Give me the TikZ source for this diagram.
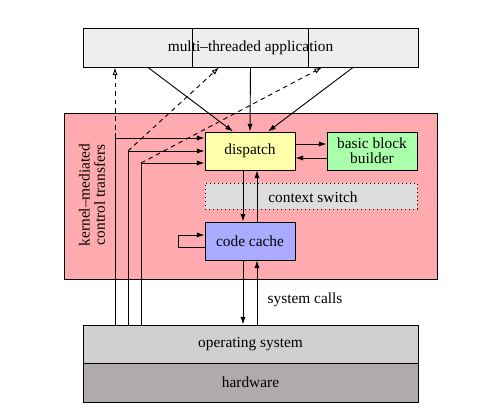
\documentclass[tikz,border=0pt]{standalone}
\usepackage{fontspec}
\setmainfont{Liberation Serif}
\usetikzlibrary{arrows.meta}
\definecolor{appgray}{RGB}{238,238,238}
\definecolor{kernpink}{RGB}{255,170,175}
\definecolor{dispyellow}{RGB}{255,255,170}
\definecolor{bbgreen}{RGB}{170,255,170}
\definecolor{cacheblue}{RGB}{170,170,255}
\definecolor{ctxgray}{RGB}{221,221,221}
\definecolor{osgray}{RGB}{208,208,208}
\definecolor{hwgray}{RGB}{174,170,174}
\begin{document}
\begin{tikzpicture}[x=0.65pt, y=-0.65pt, line width=0.6pt,
  box/.style = {draw, rectangle, inner sep=0pt, minimum width=58.5pt, minimum height=24.7pt, align=center},
  layer/.style = {draw, rectangle, inner sep=0pt, minimum width=217.75pt},
  go/.style = {-{Latex[length=5pt,width=3.4pt]}},
  ret/.style = {dashed, dash pattern=on 3pt off 2.5pt, -{Latex[open,length=5pt,width=3.4pt]}}]
\useasboundingbox (0,0) rectangle (492,417);
% layers
\node [layer, fill=appgray, minimum height=25.35pt] (app) at (250.5,47.5) {multi--threaded application};
\node [draw, fill=kernpink, inner sep=0pt, minimum width=242.45pt, minimum height=107.9pt] (kernel) at (250.5,196) {};
\node [layer, fill=osgray, minimum height=24.7pt] (os) at (250.5,344) {operating system};
\node [layer, fill=hwgray, minimum height=25.35pt] (hw) at (250.5,382.5) {hardware};
% inside the runtime
\node [box, fill=dispyellow] (dispatch) at (250,151) {dispatch};
\node [box, fill=bbgreen] (builder) at (372,151) {basic block\\[-2pt]builder};
\node [draw, dotted, fill=ctxgray, inner sep=0pt, minimum width=137.8pt, minimum height=16.9pt] (ctx) at (311,196) {};
\node (ctxlabel) at (313,197) {context switch};
\node [box, fill=cacheblue] (cache) at (250,241) {code cache};
\node [rotate=90, align=center] (ktext) at (92,195) {kernel--mediated\\[-2pt]control transfers};
\node [right] (syscalls) at (262,300) {system calls};
% helper positions
\coordinate (s1) at (192,0);
\coordinate (s2) at (308,0);
\coordinate (a1) at (148,0);
\coordinate (a2) at (233,0);
\coordinate (a3) at (353,0);
\coordinate (a4) at (268,0);
\coordinate (dn) at (243,0);
\coordinate (up) at (257,0);
\coordinate (k1) at (115,138);
\coordinate (k2) at (128,151);
\coordinate (k3) at (141,163);
\coordinate (r2) at (219,0);
\coordinate (r3) at (322,0);
\coordinate (bo) at (0,144);
\coordinate (bi) at (0,158);
\coordinate (lo) at (0,247);
\coordinate (li) at (0,235);
\draw (app.north -| s1) -- (app.south -| s1);
\draw (app.north -| s2) -- (app.south -| s2);
% application into dispatch
\draw [go] (app.south -| a1) -- (dispatch.north -| a2);
\draw [go] (app.south) -- (dispatch.north);
\draw [go] (app.south -| a3) -- (dispatch.north -| a4);
% kernel-mediated transfers
\draw [go] (os.north -| k1) -- (k1) -- (dispatch.west |- k1);
\draw [go] (os.north -| k2) -- (k2) -- (dispatch.west |- k2);
\draw [go] (os.north -| k3) -- (k3) -- (dispatch.west |- k3);
\draw [ret] (k1) -- (app.south -| k1);
\draw [ret] (k2) -- (app.south -| r2);
\draw [ret] (k3) -- (app.south -| r3);
% dispatch, builder, cache
\draw [go] (dispatch.east |- bo) -- (builder.west |- bo);
\draw [go] (builder.west |- bi) -- (dispatch.east |- bi);
\draw [go] (dispatch.south -| dn) -- (cache.north -| dn);
\draw [go] (cache.north -| up) -- (dispatch.south -| up);
\draw [go] (cache.west |- lo) -- ++(-26,0) |- (cache.west |- li);
% system calls
\draw [go] (cache.south -| dn) -- (os.north -| dn);
\draw [go] (os.north -| up) -- (cache.south -| up);
\end{tikzpicture}
\end{document}
